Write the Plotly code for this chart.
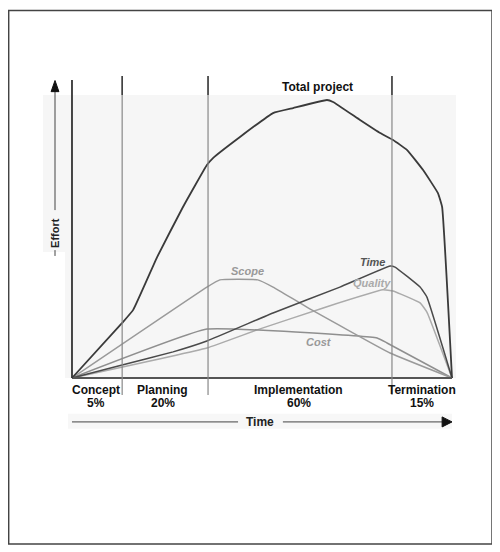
import plotly.graph_objects as go

# ---- data (time 0-100 across the project, effort 0-100 at the peak) ----
phase_names = ["Concept", "Planning", "Implementation", "Termination"]
phase_pcts = ["5%", "20%", "60%", "15%"]
phase_bounds = [0, 13.2, 35.8, 84.2, 100]

total_t = [0, 13.2, 16.1, 22.4, 29.2, 35.5, 37.1, 44.2, 52.9, 58.2, 67.1, 68.7, 75.8, 81.1, 84.5, 88.2, 92.4, 96.3, 97.4, 100]
total_e = [0, 19.8, 24.5, 43.5, 61.5, 76.6, 79.1, 86.7, 95.3, 97.1, 100, 99.3, 92.8, 88.1, 85.6, 82.0, 74.8, 66.5, 61.5, 0]

scope_t = [0, 35.5, 38.9, 48.9, 52.9, 61.8, 83.7, 100]
scope_e = [0, 32.7, 35.3, 35.3, 32.7, 25.5, 9.0, 0]

cost_t = [0, 35.5, 80.3, 82.9, 100]
cost_e = [0, 17.6, 14.4, 12.6, 0]

time_t = [0, 13.2, 26.6, 35.5, 52.9, 70.5, 83.7, 85.0, 91.6, 93.4, 100]
time_e = [0, 4.7, 9.4, 13.3, 23.4, 32.7, 40.3, 39.9, 32.7, 29.1, 0]

quality_t = [0, 35.5, 48.7, 66.1, 81.8, 84.5, 91.6, 93.4, 100]
quality_e = [0, 10.8, 17.3, 25.2, 31.7, 31.3, 27.0, 23.7, 0]

FONT = "Liberation Sans, Arial, sans-serif"

fig = go.Figure()

def curve(t, e, color, width):
    fig.add_trace(go.Scatter(x=t, y=e, mode="lines",
                             line=dict(color=color, width=width, shape="spline", smoothing=0.3),
                             hoverinfo="skip", showlegend=False))

shapes = []
# outer frame
shapes.append(dict(type="rect", x0=-16.66, x1=110.53, y0=-59.7, y1=132.2,
                   line=dict(color="#444", width=1.5), fillcolor="rgba(0,0,0,0)", layer="above"))
# faint background panels
shapes.append(dict(type="rect", x0=-1.84, x1=101.05, y0=0, y1=101.8, line=dict(width=0), fillcolor="#f6f6f6", layer="below"))
shapes.append(dict(type="rect", x0=-7.63, x1=-1.84, y0=45.3, y1=101.8, line=dict(width=0), fillcolor="#f6f6f6", layer="below"))
shapes.append(dict(type="rect", x0=-1.05, x1=100, y0=-18.3, y1=-12.9, line=dict(width=0), fillcolor="#f7f7f7", layer="below"))
# baseline
shapes.append(dict(type="line", x0=0, x1=100, y0=0, y1=0, line=dict(color="#555", width=1.8)))
# left vertical axis line
shapes.append(dict(type="line", x0=0, x1=0, y0=0, y1=107.2, line=dict(color="#333", width=1.8)))
# phase dividers
for b in phase_bounds[1:-1]:
    shapes.append(dict(type="line", x0=b, x1=b, y0=-6.1, y1=108.6, line=dict(color="#888", width=1.2)))
    shapes.append(dict(type="line", x0=b, x1=b, y0=101.8, y1=108.6, line=dict(color="#333", width=1.4)))
# effort arrow shaft and dash
shapes.append(dict(type="line", x0=-4.47, x1=-4.47, y0=60.4, y1=104, line=dict(color="#444", width=1)))
shapes.append(dict(type="line", x0=-4.47, x1=-4.47, y0=43.9, y1=46.0, line=dict(color="#444", width=1)))
# time arrow shafts
shapes.append(dict(type="line", x0=0, x1=43.7, y0=-15.8, y1=-15.8, line=dict(color="#444", width=1)))
shapes.append(dict(type="line", x0=55.5, x1=98, y0=-15.8, y1=-15.8, line=dict(color="#444", width=1)))
# arrowheads
shapes.append(dict(type="path", path="M -5.5 103 L -3.44 103 L -4.47 107.0 Z", fillcolor="#111", line=dict(color="#111", width=1)))
shapes.append(dict(type="path", path="M 97.4 -14.0 L 97.4 -17.6 L 100.0 -15.8 Z", fillcolor="#111", line=dict(color="#111", width=1)))

curve(quality_t, quality_e, "#ababab", 1.5)
curve(cost_t, cost_e, "#8f8f8f", 1.5)
curve(scope_t, scope_e, "#9a9a9a", 1.5)
curve(time_t, time_e, "#4a4a4a", 1.5)
curve(total_t, total_e, "#3a3a3a", 1.8)

ann = []
def label(x, y, text, size=12, color="#111", bold=True, italic=False, angle=0):
    t = text
    if bold:
        t = "<b>" + t + "</b>"
    if italic:
        t = "<i>" + t + "</i>"
    ann.append(dict(x=x, y=y, text=t, showarrow=False, textangle=angle,
                    font=dict(family=FONT, size=size, color=color)))

label(64.7, 104.7, "Total project", 12)
label(-4.47, 52.2, "Effort", 11, color="#222", bold=True, angle=-90)
label(49.5, -15.8, "Time", 12, color="#222")
centers = [6.3, 23.9, 59.7, 92.1]
for c, n, p in zip(centers, phase_names, phase_pcts):
    label(c, -4.3, n, 12)
    label(c, -9.0, p, 12)
label(46.3, 38.5, "Scope", 11, color="#999", italic=True)
label(79.2, 41.7, "Time", 11, color="#555", italic=True)
label(78.9, 34.2, "Quality", 11, color="#aaa", italic=True)
label(65.0, 12.9, "Cost", 11, color="#999", italic=True)

# figure sits at page offset (8, 8) because of the default body margin
fig.update_layout(
    width=492, height=544,
    margin=dict(l=0, r=0, t=0, b=0),
    paper_bgcolor="white", plot_bgcolor="white",
    xaxis=dict(range=[-16.84, 112.63], visible=False, fixedrange=True),
    yaxis=dict(range=[-62.59, 133.09], visible=False, fixedrange=True),
    shapes=shapes, annotations=ann, showlegend=False,
)

fig.write_html("out.html")
